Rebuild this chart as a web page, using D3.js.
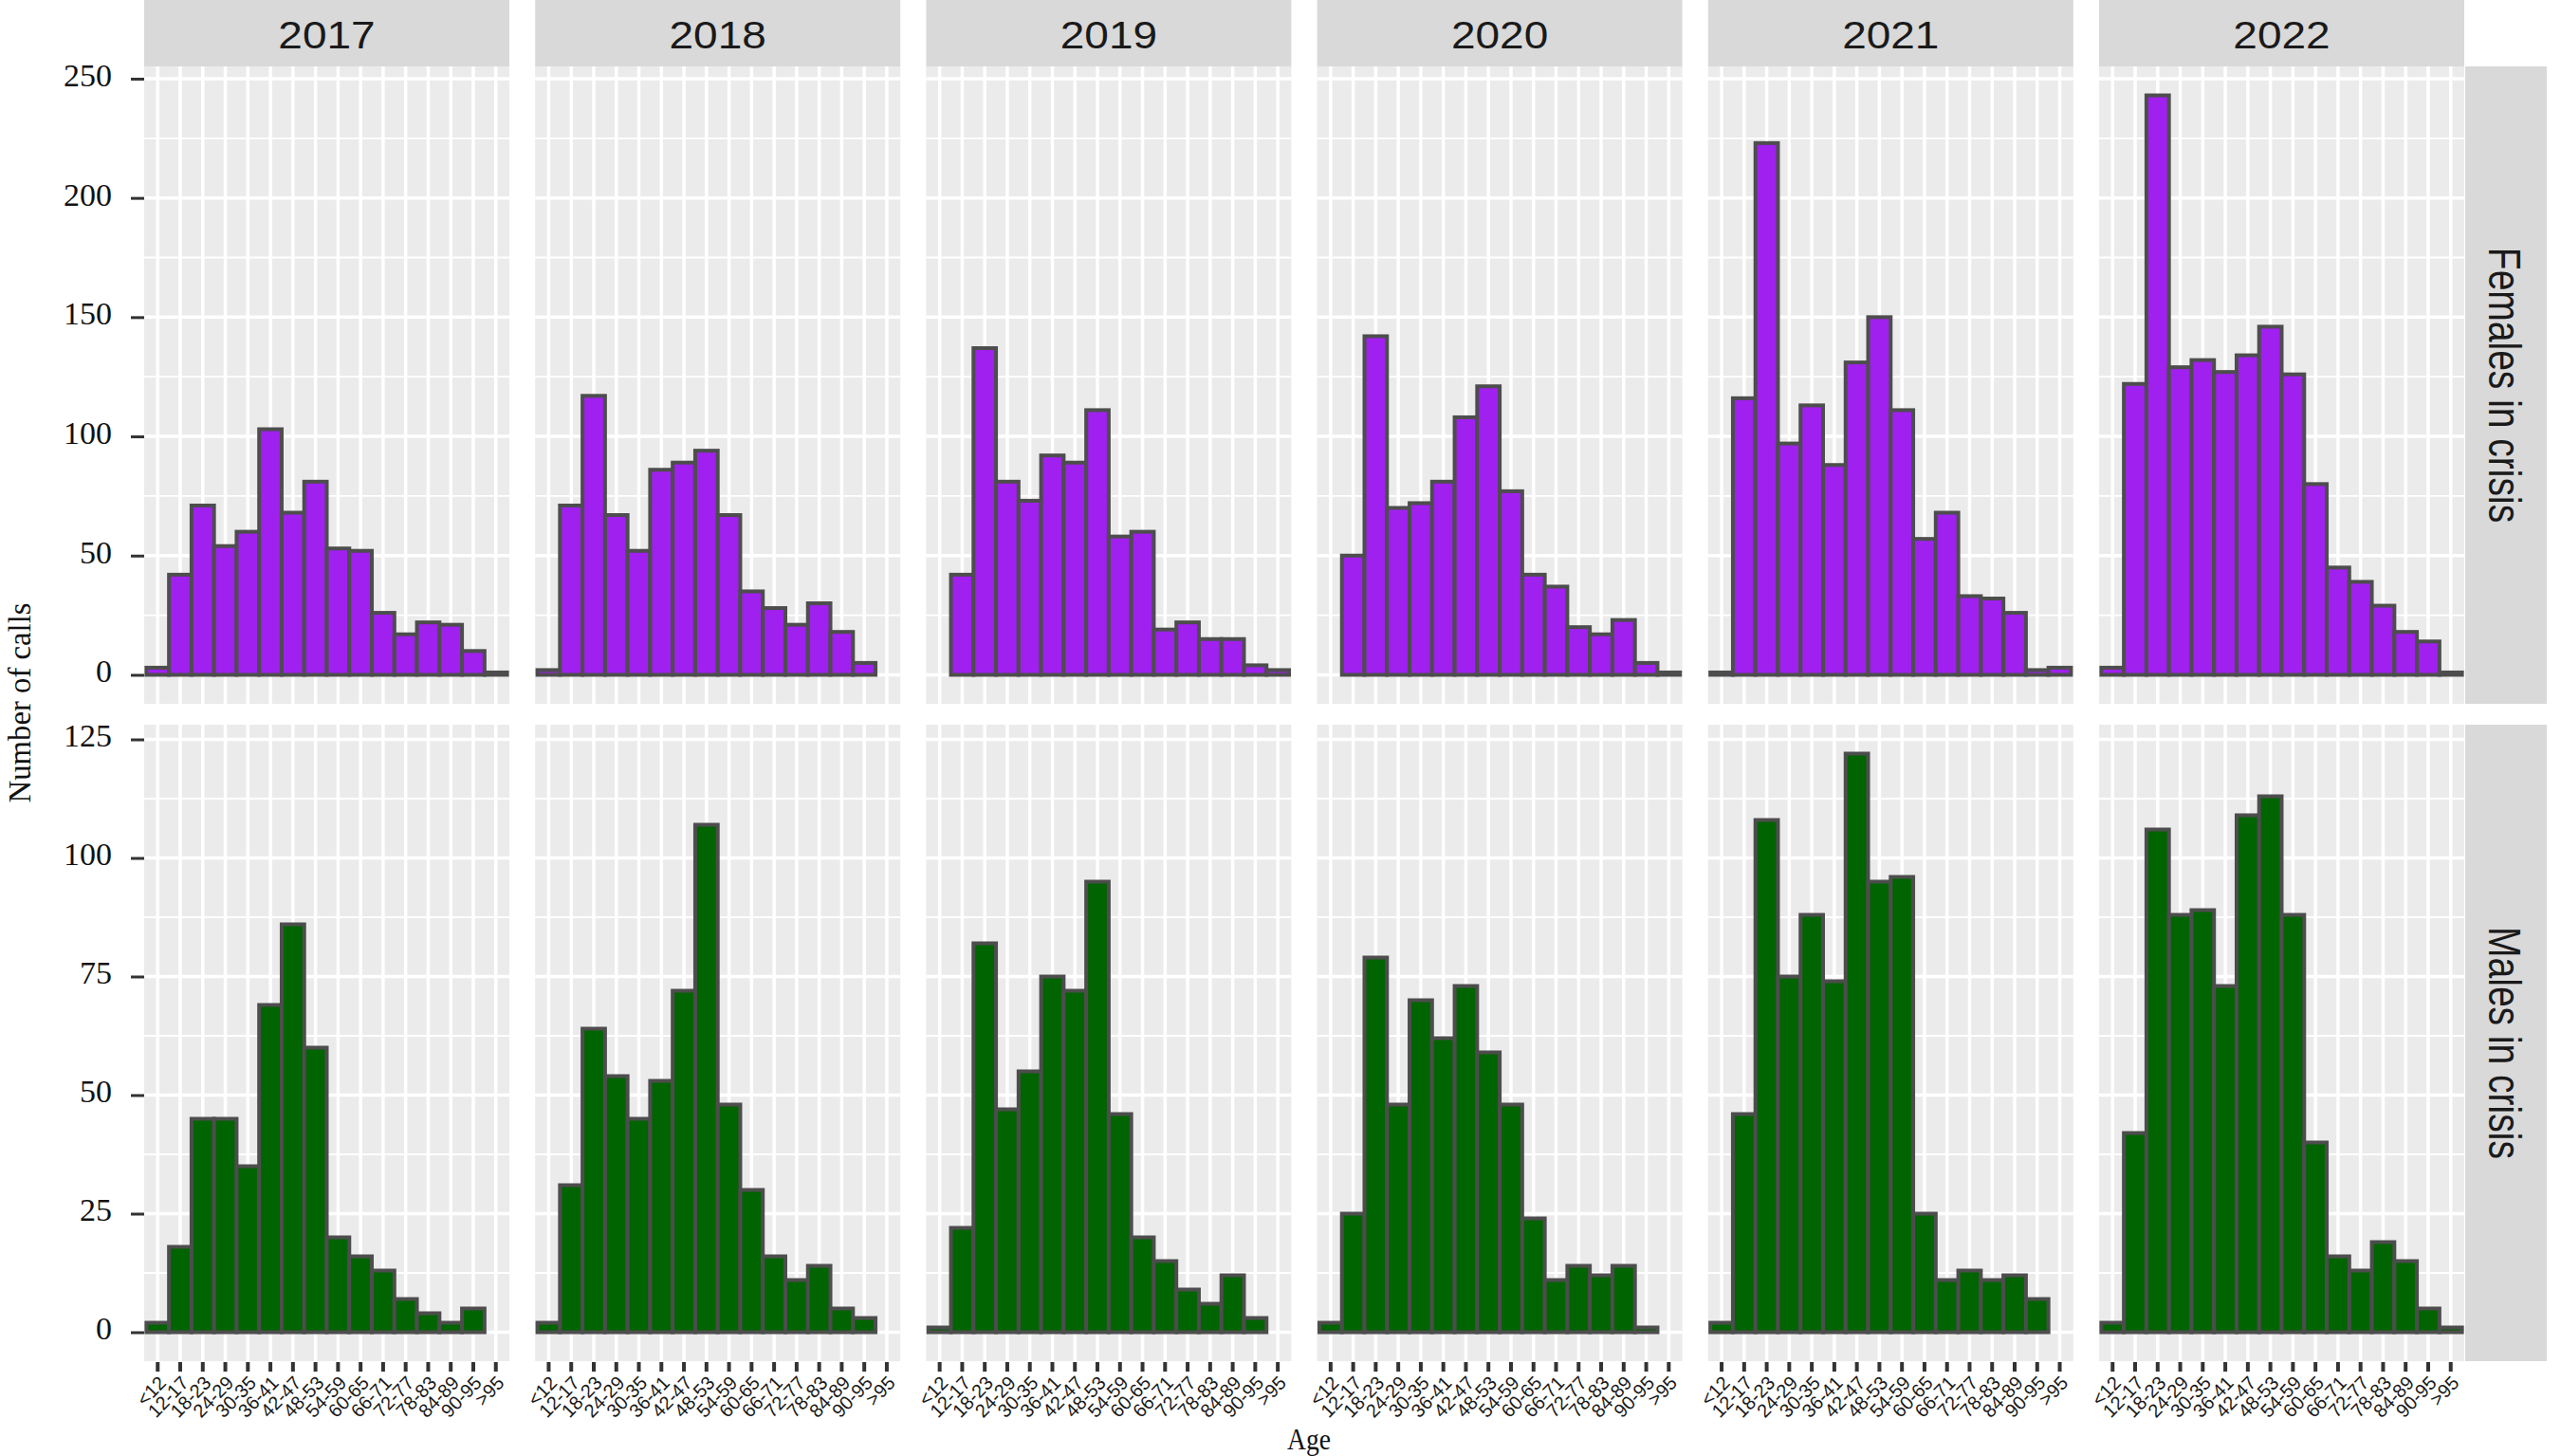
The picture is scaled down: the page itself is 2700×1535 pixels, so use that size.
<!DOCTYPE html>
<html>
<head>
<meta charset="utf-8">
<script src="https://cdnjs.cloudflare.com/ajax/libs/d3/7.8.5/d3.min.js"></script>
<style>
  html, body { margin: 0; padding: 0; background: #fff; }
  svg { display: block; }
</style>
</head>
<body>
<div id="chart"></div>
<script>
var ageGroups = ["<12", "12-17", "18-23", "24-29", "30-35", "36-41", "42-47", "48-53",
    "54-59", "60-65", "66-71", "72-77", "78-83", "84-89", "90-95", ">95"];
var years = ["2017", "2018", "2019", "2020", "2021", "2022"];
var rowLabels = ["Females in crisis", "Males in crisis"];

// number of calls per age group (null = no bar in that panel)
var females2017 = [3, 42, 71, 54, 60, 103, 68, 81, 53, 52, 26, 17, 22, 21, 10, 1];
var females2018 = [2, 71, 117, 67, 52, 86, 89, 94, 67, 35, 28, 21, 30, 18, 5, null];
var females2019 = [null, 42, 137, 81, 73, 92, 89, 111, 58, 60, 19, 22, 15, 15, 4, 2];
var females2020 = [null, 50, 142, 70, 72, 81, 108, 121, 77, 42, 37, 20, 17, 23, 5, 1];
var females2021 = [1, 116, 223, 97, 113, 88, 131, 150, 111, 57, 68, 33, 32, 26, 2, 3];
var females2022 = [3, 122, 243, 129, 132, 127, 134, 146, 126, 80, 45, 39, 29, 18, 14, 1];

var males2017 = [2, 18, 45, 45, 35, 69, 86, 60, 20, 16, 13, 7, 4, 2, 5, null];
var males2018 = [2, 31, 64, 54, 45, 53, 72, 107, 48, 30, 16, 11, 14, 5, 3, null];
var males2019 = [1, 22, 82, 47, 55, 75, 72, 95, 46, 20, 15, 9, 6, 12, 3, null];
var males2020 = [2, 25, 79, 48, 70, 62, 73, 59, 48, 24, 11, 14, 12, 14, 1, null];
var males2021 = [2, 46, 108, 75, 88, 74, 122, 95, 96, 25, 11, 13, 11, 12, 7, null];
var males2022 = [2, 42, 106, 88, 89, 73, 109, 113, 88, 40, 16, 13, 19, 15, 5, 1];

var femaleTicks = [0, 50, 100, 150, 200, 250];
var maleTicks = [0, 25, 50, 75, 100, 125];

var rows = [
    { label: rowLabels[0], fill: "#A020F0", ticks: femaleTicks,
      series: [females2017, females2018, females2019, females2020, females2021, females2022] },
    { label: rowLabels[1], fill: "#006400", ticks: maleTicks,
      series: [males2017, males2018, males2019, males2020, males2021, males2022] }
];

// layout (px)
var width = 2700, height = 1535;
var panelLeft = 152, panelW = 385, panelStep = 412.2;
var stripH = 70;
var rowTop = [70, 764], rowH = [672, 671];
var rightStripX = 2599, rightStripW = 86;

var svg = d3.select("#chart").append("svg")
    .attr("width", width)
    .attr("height", height)
    .style("background", "#fff");

// year strips on top
years.forEach(function (yr, c) {
    var left = panelLeft + c * panelStep;
    svg.append("rect")
        .attr("x", left).attr("y", 0)
        .attr("width", panelW).attr("height", stripH)
        .attr("fill", "#D9D9D9");
    svg.append("text")
        .attr("transform", "translate(" + (left + panelW / 2) + ",50.5) scale(1.15,1)")
        .attr("text-anchor", "middle")
        .style("font-family", "'Liberation Sans', Arial, sans-serif")
        .style("font-size", "40px")
        .style("fill", "#1A1A1A")
        .text(yr);
});

rows.forEach(function (row, r) {
    var top = rowTop[r], h = rowH[r];
    var maxVal = d3.max(row.series, function (s) { return d3.max(s); });
    var y = d3.scaleLinear()
        .domain([-0.05 * maxVal, 1.05 * maxVal])
        .range([top + h, top]);

    var step = row.ticks[1] - row.ticks[0];
    var minor = [row.ticks[0] - step / 2].concat(row.ticks.map(function (t) { return t + step / 2; }))
        .filter(function (v) { return v > y.domain()[0] && v < y.domain()[1]; });

    // strip on the right
    svg.append("rect")
        .attr("x", rightStripX).attr("y", top)
        .attr("width", rightStripW).attr("height", h)
        .attr("fill", "#D9D9D9");
    svg.append("text")
        .attr("transform", "translate(" + (rightStripX + rightStripW / 2 - 1) + "," + (top + h / 2) + ") scale(1.23,1) rotate(90)")
        .attr("text-anchor", "middle")
        .attr("dy", "0.36em")
        .style("font-family", "'Liberation Sans', Arial, sans-serif")
        .style("font-size", "39px")
        .style("fill", "#1A1A1A")
        .text(row.label);

    years.forEach(function (yr, c) {
        var left = panelLeft + c * panelStep;
        var x = d3.scaleBand()
            .domain(ageGroups)
            .range([left, left + panelW])
            .paddingInner(0)
            .paddingOuter(0.1);
        var g = svg.append("g").attr("class", "panel-" + r + "-" + c);

        g.append("rect")
            .attr("x", left).attr("y", top)
            .attr("width", panelW).attr("height", h)
            .attr("fill", "#EBEBEB");

        g.selectAll(".minor").data(minor).enter().append("line")
            .attr("x1", left).attr("x2", left + panelW)
            .attr("y1", function (d) { return y(d); })
            .attr("y2", function (d) { return y(d); })
            .attr("stroke", "#fff").attr("stroke-width", 1.8);

        g.selectAll(".major").data(row.ticks).enter().append("line")
            .attr("x1", left).attr("x2", left + panelW)
            .attr("y1", function (d) { return y(d); })
            .attr("y2", function (d) { return y(d); })
            .attr("stroke", "#fff").attr("stroke-width", 3.5);

        g.selectAll(".vgrid").data(ageGroups).enter().append("line")
            .attr("x1", function (d) { return x(d) + x.bandwidth() / 2; })
            .attr("x2", function (d) { return x(d) + x.bandwidth() / 2; })
            .attr("y1", top).attr("y2", top + h)
            .attr("stroke", "#fff").attr("stroke-width", 3.5);

        var bars = ageGroups.map(function (a, i) { return { age: a, value: row.series[c][i] }; })
            .filter(function (d) { return d.value !== null; });

        g.selectAll(".bar").data(bars).enter().append("rect")
            .attr("x", function (d) { return x(d.age); })
            .attr("width", x.bandwidth())
            .attr("y", function (d) { return y(d.value); })
            .attr("height", function (d) { return y(0) - y(d.value); })
            .attr("fill", row.fill)
            .attr("stroke", "#4D4D4D")
            .attr("stroke-width", 4);

        // y axis only on first column
        if (c === 0) {
            var ya = svg.append("g")
                .attr("transform", "translate(" + left + ",0)")
                .call(d3.axisLeft(y).tickValues(row.ticks).tickSize(14).tickPadding(20));
            ya.select(".domain").remove();
            ya.selectAll(".tick line").attr("stroke", "#333").attr("stroke-width", 3);
            ya.selectAll(".tick text")
                .attr("dy", "0.22em")
                .style("font-family", "'Liberation Serif', 'Times New Roman', serif")
                .style("font-size", "34px")
                .style("fill", "#111");
        }

        // x axis only on bottom row
        if (r === rows.length - 1) {
            var xa = svg.append("g")
                .attr("transform", "translate(0," + (top + h) + ")")
                .call(d3.axisBottom(x).tickSize(11).tickSizeOuter(0));
            xa.select(".domain").remove();
            xa.selectAll(".tick line").attr("stroke", "#333").attr("stroke-width", 4).attr("y1", 1);
            xa.selectAll(".tick text")
                .attr("x", 0).attr("y", 0).attr("dy", 0)
                .attr("transform", "translate(10,24) rotate(-46)")
                .attr("text-anchor", "end")
                .style("font-family", "'Liberation Sans', Arial, sans-serif")
                .style("font-size", "20px")
                .style("fill", "#1A1A1A");
        }
    });
});

// axis titles
svg.append("text")
    .attr("transform", "translate(32," + 741 + ") rotate(-90)")
    .attr("text-anchor", "middle")
    .attr("textLength", 211)
    .attr("lengthAdjust", "spacingAndGlyphs")
    .style("font-family", "'Liberation Serif', 'Times New Roman', serif")
    .style("font-size", "34px")
    .style("fill", "#111")
    .text("Number of calls");

svg.append("text")
    .attr("x", 1380).attr("y", 1528)
    .attr("text-anchor", "middle")
    .attr("textLength", 46)
    .attr("lengthAdjust", "spacingAndGlyphs")
    .style("font-family", "'Liberation Serif', 'Times New Roman', serif")
    .style("font-size", "32px")
    .style("fill", "#111")
    .text("Age");
</script>
</body>
</html>
